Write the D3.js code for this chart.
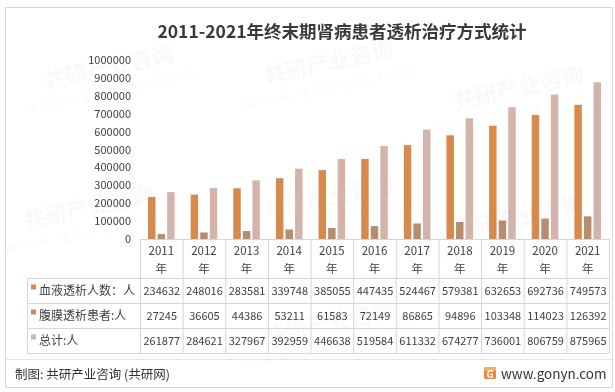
<!DOCTYPE html>
<html>
<head>
<meta charset="utf-8">
<script src="https://cdn.jsdelivr.net/npm/d3@7"></script>
<style>
  body { margin: 0; background: #fff; }
  svg text { font-family: "Noto Sans CJK SC", "Liberation Sans", sans-serif; }
</style>
</head>
<body>
<div id="chart"></div>
<script>
let years = ["2011", "2012", "2013", "2014", "2015", "2016", "2017", "2018", "2019", "2020", "2021"];
let seriesNames = ["血液透析人数：人", "腹膜透析患者:人", "总计:人"];
let hemo = [234632, 248016, 283581, 339748, 385055, 447435, 524467, 579381, 632653, 692736, 749573];
let peritoneal = [27245, 36605, 44386, 53211, 61583, 72149, 86865, 94896, 103348, 114023, 126392];
let total = [261877, 284621, 327967, 392959, 446638, 519584, 611332, 674277, 736001, 806759, 875965];
let yTicks = [0, 100000, 200000, 300000, 400000, 500000, 600000, 700000, 800000, 900000, 1000000];

let seriesValues = [hemo, peritoneal, total];
let colors = ["#d68a4c", "#b88c6f", "#d4b4aa"];

let dim = { width: 615, height: 392 };
let svg = d3.select('#chart').append('svg')
    .attr('width', dim.width)
    .attr('height', dim.height);

// outer frame
svg.append('rect')
    .attr('x', 5.5).attr('y', 7.5)
    .attr('width', 607).attr('height', 380)
    .attr('fill', '#fff')
    .attr('stroke', '#d9d9d9');

// faint watermark, kept inside the frame
let wm = svg.append('g').attr('opacity', 0.035).attr('fill', '#444');
[[110, 75], [330, 70], [520, 95], [90, 215], [330, 205], [520, 225], [330, 330]].forEach(p => {
    let g = wm.append('g').attr('transform', `translate(${p[0]},${p[1]}) rotate(-12)`);
    g.append('text').attr('text-anchor', 'middle').attr('font-size', 22).attr('font-weight', 'bold').text('共研产业咨询');
    g.append('text').attr('text-anchor', 'middle').attr('y', 20).attr('font-size', 13).attr('letter-spacing', 6).text('www.gonyn.com');
});

svg.append('text')
    .attr('x', 342).attr('y', 38)
    .attr('text-anchor', 'middle')
    .attr('font-size', 17.5)
    .attr('font-weight', 'bold')
    .attr('fill', '#3a3a3a')
    .text('2011-2021年终末期肾病患者透析治疗方式统计');

let x = d3.scaleBand().domain(years).range([140, 609]);
let xSub = d3.scaleBand().domain(seriesNames)
    .range([x.bandwidth() / 2 - 13.3, x.bandwidth() / 2 + 13.3])
    .paddingInner(0.22);
let y = d3.scaleLinear().domain([0, 1000000]).range([239, 60]);

// y axis labels
let axisY = svg.append('g')
    .attr('transform', 'translate(131,0)')
    .call(d3.axisLeft(y).tickValues(yTicks).tickFormat(d3.format('d')).tickSize(0).tickPadding(0));
axisY.select('.domain').remove();
axisY.selectAll('text')
    .attr('font-family', '"Liberation Sans", sans-serif')
    .attr('font-size', 11)
    .attr('fill', '#404040');

// bars
let groups = svg.selectAll('g.year')
    .data(years)
    .join('g')
    .attr('class', 'year')
    .attr('transform', d => `translate(${x(d)},0)`);

groups.selectAll('rect')
    .data((d, i) => seriesNames.map((s, j) => ({ s: s, v: seriesValues[j][i], c: colors[j] })))
    .join('rect')
    .attr('x', d => xSub(d.s))
    .attr('y', d => y(d.v))
    .attr('width', xSub.bandwidth())
    .attr('height', d => y(0) - y(d.v))
    .attr('fill', d => d.c);

// data table
let tableTop = 239;
let rowTops = [278, 303, 328, 353];
let left = 27, right = 609;
let grid = svg.append('g').attr('stroke', '#d6d6d6').attr('fill', 'none');

grid.append('line').attr('x1', x.range()[0]).attr('x2', right).attr('y1', tableTop + 0.5).attr('y2', tableTop + 0.5);
rowTops.forEach(t => {
    grid.append('line').attr('x1', left).attr('x2', right).attr('y1', t + 0.5).attr('y2', t + 0.5);
});
grid.append('line').attr('x1', left + 0.5).attr('x2', left + 0.5).attr('y1', rowTops[0]).attr('y2', rowTops[3]);
years.forEach(d => {
    grid.append('line').attr('x1', x(d) + 0.5).attr('x2', x(d) + 0.5).attr('y1', tableTop).attr('y2', rowTops[3]);
});
grid.append('line').attr('x1', right + 0.5).attr('x2', right + 0.5).attr('y1', tableTop).attr('y2', rowTops[3]);

// header labels
let header = svg.append('g').attr('fill', '#404040').attr('font-size', 11.5).attr('text-anchor', 'middle');
years.forEach(d => {
    header.append('text').attr('x', x(d) + x.bandwidth() / 2).attr('y', 255)
        .attr('font-family', '"Liberation Sans", sans-serif').text(d);
    header.append('text').attr('x', x(d) + x.bandwidth() / 2).attr('y', 273).text('年');
});

// rows
seriesNames.forEach((s, j) => {
    let cy = (rowTops[j] + rowTops[j + 1]) / 2;
    svg.append('rect')
        .attr('x', 31).attr('y', cy - 6)
        .attr('width', 5).attr('height', 5)
        .attr('fill', colors[j]);
    svg.append('text')
        .attr('x', 39).attr('y', cy + 4.5)
        .attr('font-size', 12)
        .attr('fill', '#404040')
        .text(s);
    svg.append('g').selectAll('text')
        .data(seriesValues[j])
        .join('text')
        .attr('x', (d, i) => x(years[i]) + x.bandwidth() / 2 + 0.5)
        .attr('y', cy + 4)
        .attr('text-anchor', 'middle')
        .attr('font-family', '"Liberation Sans", sans-serif')
        .attr('font-size', 11)
        .attr('fill', '#404040')
        .text(d => d);
});

// footer
svg.append('line')
    .attr('x1', 5).attr('x2', 612).attr('y1', 359.5).attr('y2', 359.5)
    .attr('stroke', '#e3e3e3');
svg.append('text')
    .attr('x', 15).attr('y', 379)
    .attr('font-size', 12.5)
    .attr('fill', '#333')
    .text('制图: 共研产业咨询 (共研网)');

let logo = svg.append('g').attr('transform', 'translate(484,367)');
logo.append('rect').attr('width', 12).attr('height', 12).attr('rx', 1.5).attr('fill', '#f0883c');
logo.append('rect').attr('x', 0).attr('y', 0).attr('width', 12).attr('height', 4).attr('rx', 1.5).attr('fill', '#f5b06a');
logo.append('text').attr('x', 6).attr('y', 10.5).attr('text-anchor', 'middle')
    .attr('font-family', '"Liberation Sans", sans-serif').attr('font-weight', 'bold')
    .attr('font-size', 10).attr('fill', '#fff').text('G');
svg.append('text')
    .attr('x', 501).attr('y', 379)
    .attr('font-family', '"Liberation Sans", sans-serif')
    .attr('font-size', 13.5)
    .attr('fill', '#333')
    .text('www.gonyn.com');
</script>
</body>
</html>
